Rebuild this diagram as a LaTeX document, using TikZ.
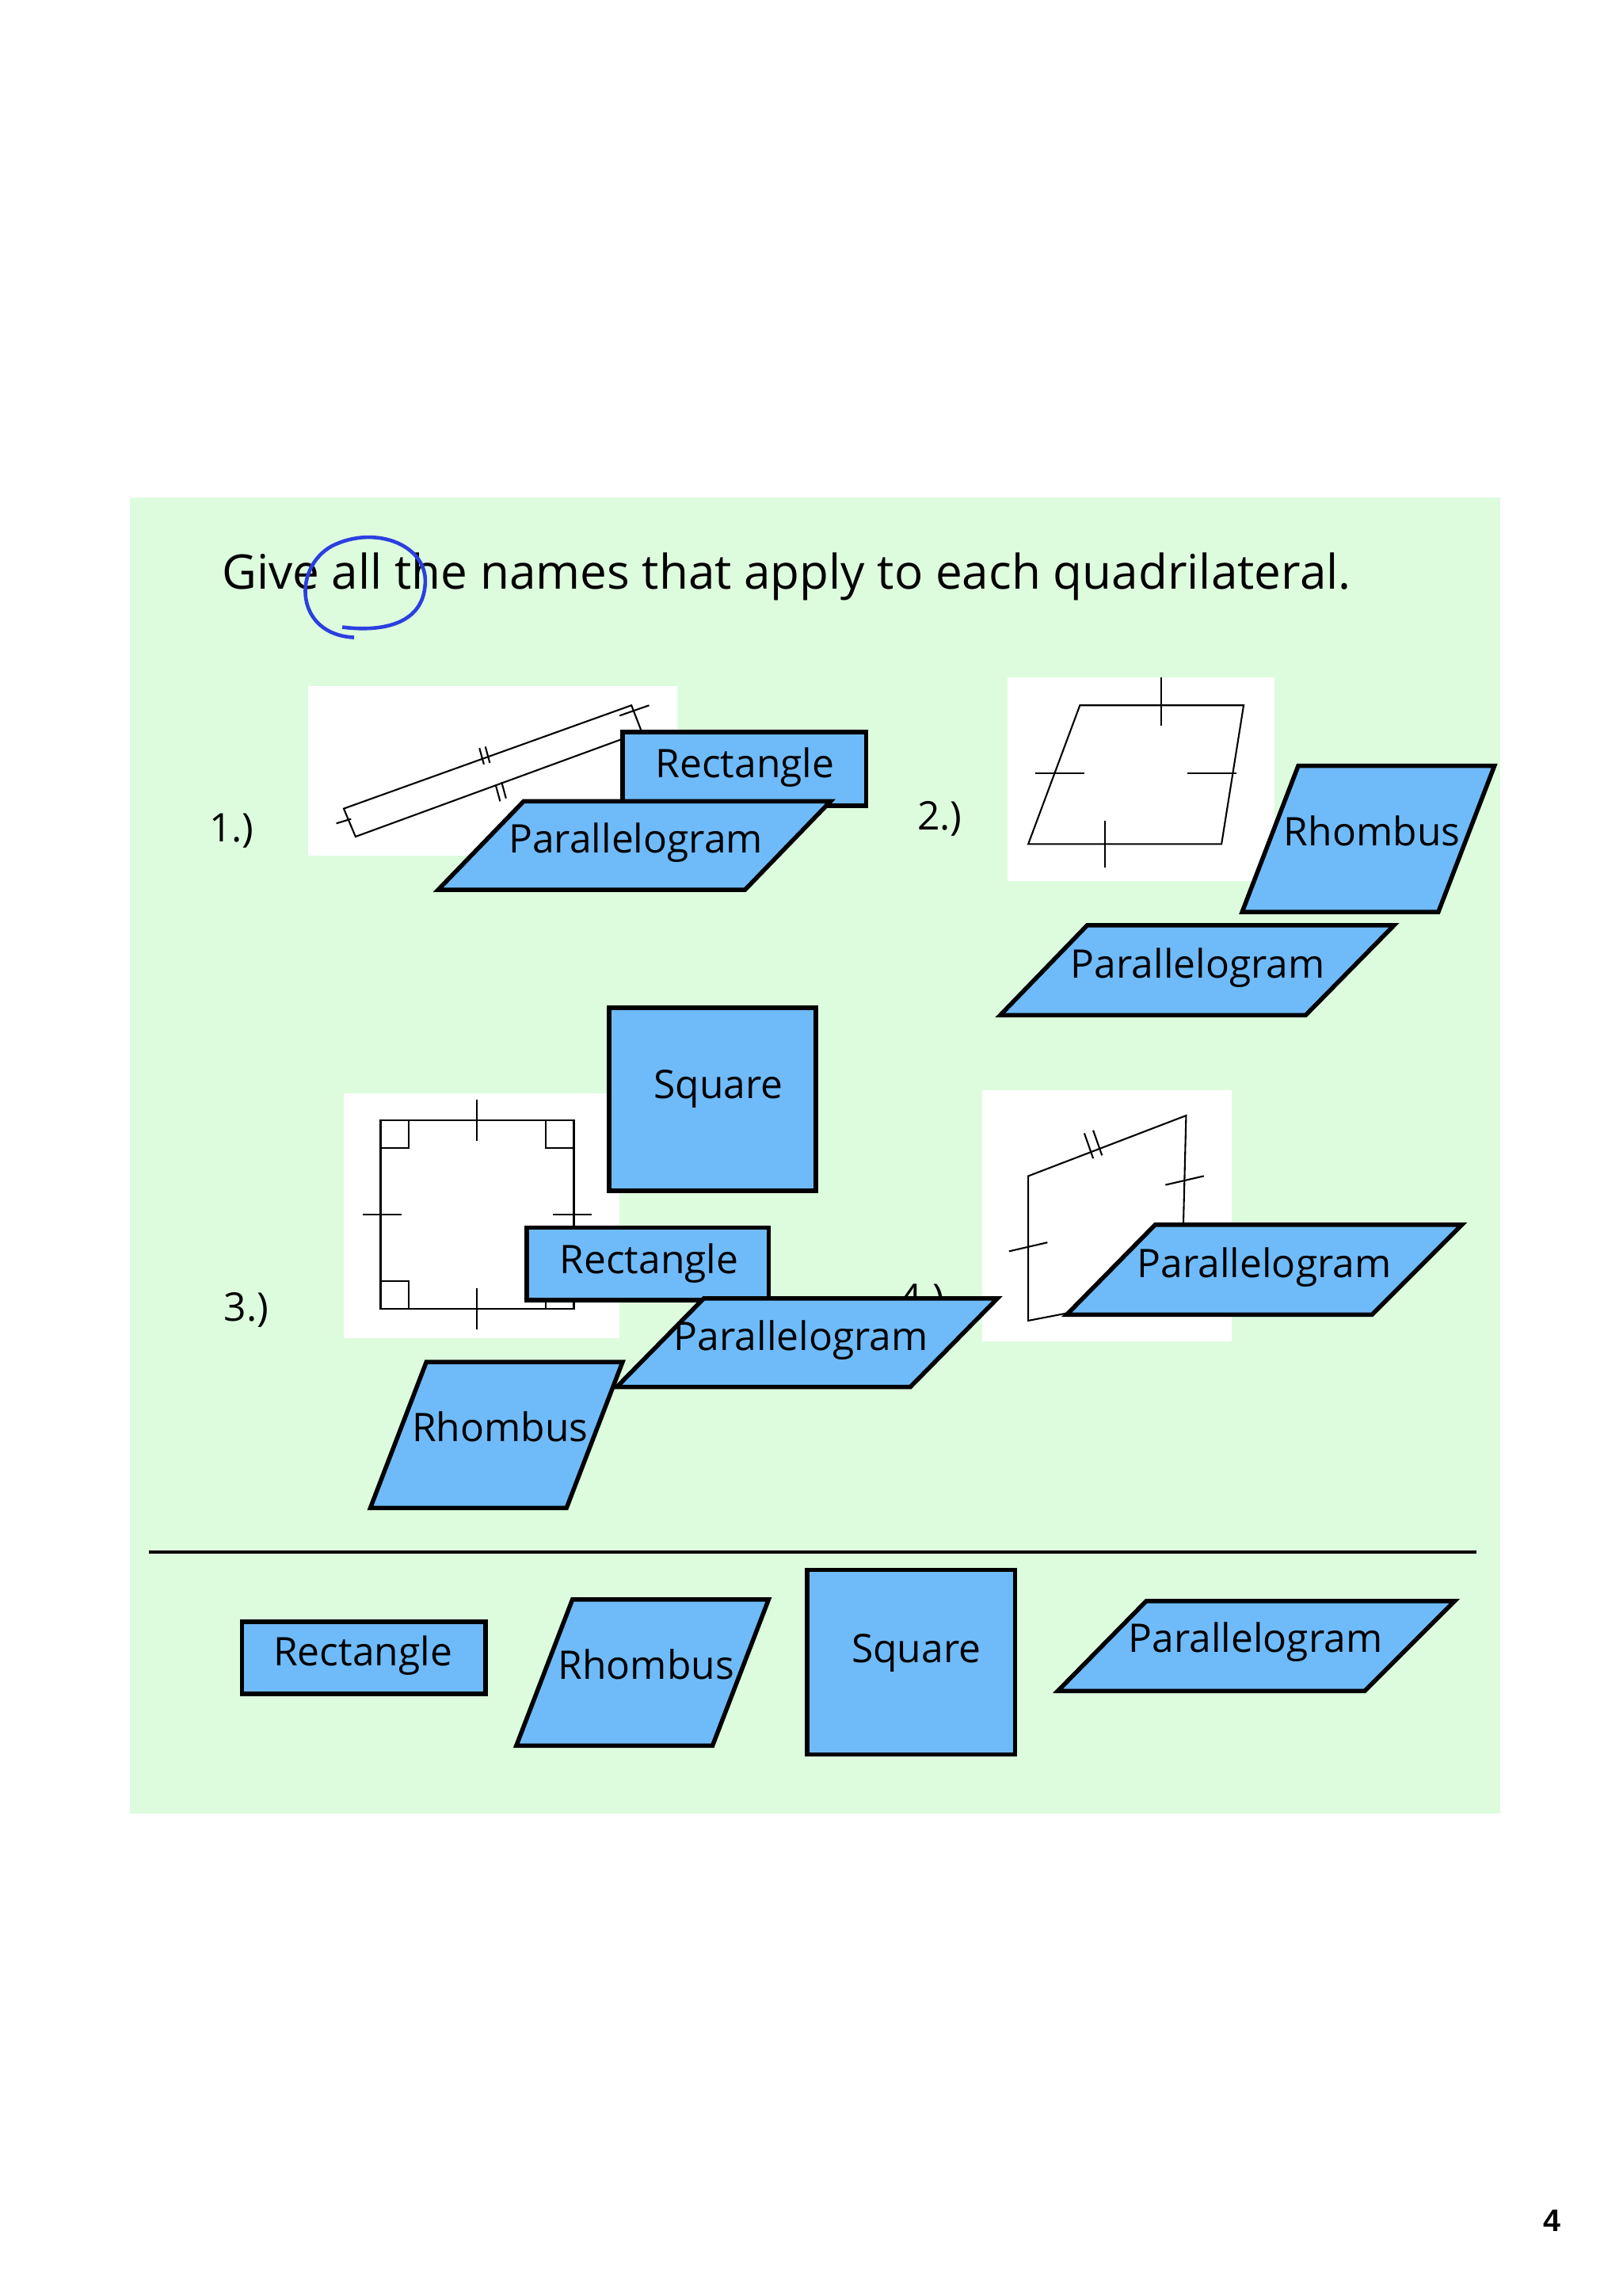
\documentclass[tikz,border=0pt]{standalone}
\usepackage{fontspec}
\setmainfont{Open Sans}
\newfontfamily\numfont{Liberation Sans}
\definecolor{bg}{HTML}{DDFCDD}
\definecolor{card}{HTML}{6FBBFA}
\definecolor{pen}{HTML}{2B3FE0}
\begin{document}
\begin{tikzpicture}[x=0.05cm,y=-0.05cm,
  card/.style={fill=card,draw=black,line width=4.2pt,line join=miter},
  lbl/.style={font=\fontsize{38}{42}\selectfont},
  sk/.style={draw=black,line width=1.6pt},
  photo/.style={fill=white,draw=none}]
\useasboundingbox (0,0) rectangle (1100,1556);
\fill[white] (0,0) rectangle (1100,1556);
\fill[bg] (88,337) rectangle (1017,1229);
\node[anchor=west,font=\fontsize{46}{50}\selectfont] (title) at (148,391) {Give all the names that apply to each quadrilateral.};
\draw[pen,line width=3.5pt] (240,432) .. controls (200,430) and (198,385) .. (225,370) .. controls (255,355) and (292,370) .. (288,398) .. controls (285,425) and (255,428) .. (232,425);
% photos
\fill[photo] (209,465) rectangle (459,580);
\fill[photo] (683,459) rectangle (864,597);
\fill[photo] (233,741) rectangle (420,907);
\fill[photo] (666,739) rectangle (835,909);
% sketch 1
\draw[sk] (233,548) -- (428,478) -- (435,496) -- (241,567) -- cycle;
\draw[sk] (329,506)--(332,517) (325,507)--(328,518) (336,532)--(339,543) (340,530)--(343,541);
\draw[sk] (238,555)--(228,558) (420,485)--(440,478);
% sketch 2
\draw[sk] (697,572) -- (828,572) -- (843,478) -- (732,478) -- cycle;
\draw[sk] (787,459)--(787,492) (749,556)--(749,588) (702,524)--(735,524) (805,524)--(838,524);
% sketch 3
\draw[sk] (258,759) rectangle (389,887);
\draw[sk] (258,778)--(277,778)--(277,759) (370,759)--(370,778)--(389,778) (258,868)--(277,868)--(277,887) (370,887)--(370,868)--(389,868);
\draw[sk] (323,745)--(323,773) (323,873)--(323,901) (246,823)--(272,823) (375,823)--(401,823);
% sketch 4
\draw[sk] (697,797) -- (804,756) -- (801,875) -- (697,895) -- cycle;
\draw[sk] (735,768)--(741,785) (741,766)--(747,783) (684,848)--(710,842) (790,803)--(816,797);
% numbers
\node[lbl] (n1) at (157,563) {1.)};
\node[lbl] (n2) at (637,555) {2.)};
\node[lbl] (n3) at (167,888) {3.)};
\node[lbl] (n4) at (625,882) {4.)};
% cards
\draw[card] (422,496) rectangle (587,546); \node[lbl] (r1) at (505,520) {Rectangle};
\draw[card] (297,603)--(505,603)--(563,543)--(355,543)--cycle; \node[lbl] (p1) at (431,571) {Parallelogram};
\draw[card] (842,618)--(975,618)--(1013,519)--(880,519)--cycle; \node[lbl] (h2) at (930,563) {Rhombus};
\draw[card] (678,688)--(885,688)--(945,627)--(737,627)--cycle; \node[lbl] (p2) at (812,656) {Parallelogram};
\draw[card] (413,683) rectangle (553,807); \node[lbl] (s3) at (487,738) {Square};
\draw[card] (357,832) rectangle (521,881); \node[lbl] (r3) at (440,856) {Rectangle};
\draw[card] (418,940)--(617,940)--(676,880)--(477,880)--cycle; \node[lbl] (p3) at (543,908) {Parallelogram};
\draw[card] (251,1022)--(384,1022)--(422,923)--(289,923)--cycle; \node[lbl] (h3) at (339,967) {Rhombus};
\draw[card] (723,891)--(930,891)--(991,830)--(783,830)--cycle; \node[lbl] (p4) at (857,859) {Parallelogram};
\draw[black,line width=3pt] (101,1052) -- (1001,1052);
\draw[card] (164,1099) rectangle (329,1148); \node[lbl] (rb) at (246,1122) {Rectangle};
\draw[card] (350,1183)--(483,1183)--(521,1084)--(388,1084)--cycle; \node[lbl] (hb) at (438,1128) {Rhombus};
\draw[card] (547,1064) rectangle (688,1189); \node[lbl] (sb) at (621,1120) {Square};
\draw[card] (717,1146)--(925,1146)--(986,1085)--(777,1085)--cycle; \node[lbl] (pb) at (851,1113) {Parallelogram};
\node[font=\numfont\bfseries\fontsize{30}{32}\selectfont] (pg) at (1052,1505) {4};
\end{tikzpicture}
\end{document}
